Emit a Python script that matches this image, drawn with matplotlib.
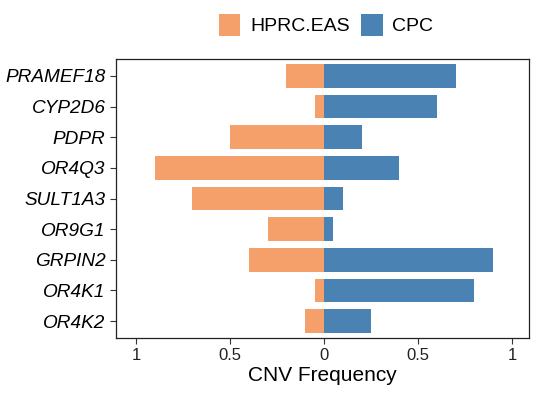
import matplotlib
matplotlib.use("Agg")
import matplotlib.pyplot as plt
import numpy as np

plt.rcParams['font.family'] = ['Liberation Sans', 'DejaVu Sans']

genes = ["PRAMEF18", "CYP2D6", "PDPR", "OR4Q3", "SULT1A3", "OR9G1", "GRPIN2", "OR4K1", "OR4K2"]
hprc_eas = [0.20, 0.05, 0.50, 0.90, 0.70, 0.30, 0.40, 0.05, 0.10]
cpc = [0.70, 0.60, 0.20, 0.40, 0.10, 0.05, 0.90, 0.80, 0.25]
xticks = [-1, -0.5, 0, 0.5, 1]
xticklabels = ["1", "0.5", "0", "0.5", "1"]

c_eas = "#F5A06A"
c_cpc = "#4A82B4"

fig = plt.figure(figsize=(5.39, 3.94), dpi=100)
ax = fig.add_axes([116/539, 1-338/394, (529-116)/539, (338-59)/394])

n = len(genes)
ypos = np.arange(n)[::-1]
ax.barh(ypos, [-v for v in hprc_eas], height=0.78, color=c_eas, label="HPRC.EAS")
ax.barh(ypos, cpc, height=0.78, color=c_cpc, label="CPC")

ax.set_xlim(-1.106, 1.09)
ax.set_ylim(-0.55, n - 1 + 0.55)
ax.set_yticks(ypos)
ax.set_yticklabels(genes, fontsize=13.7, style='italic', color='black')
ax.set_xticks(xticks)
ax.set_xticklabels(xticklabels, fontsize=12, color='#222222')
ax.set_xlabel("CNV Frequency", fontsize=15, labelpad=2)
ax.tick_params(axis='both', length=4, width=0.8, color='#333333')
for s in ax.spines.values():
    s.set_linewidth(0.9)
    s.set_color('#222222')

fig.legend(loc='upper center', bbox_to_anchor=(0.605, 1.01), ncol=2, frameon=False,
           fontsize=14, handlelength=1.1, handleheight=1.4, handletextpad=0.5,
           columnspacing=0.6)

fig.savefig("out.png", dpi=100)
